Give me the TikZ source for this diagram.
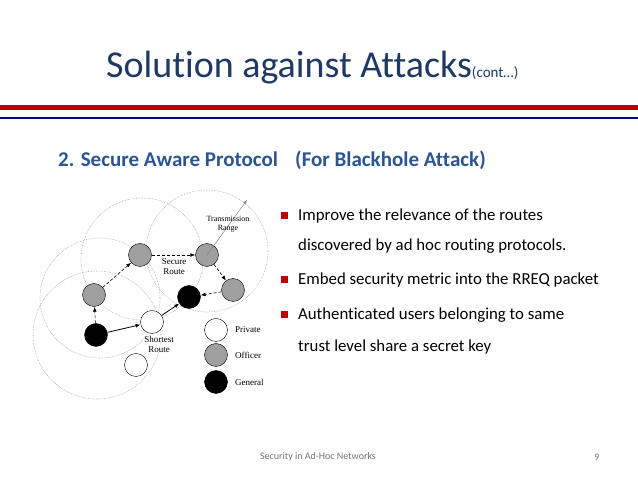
\documentclass[tikz,border=0pt]{standalone}
\usepackage{fontspec}
\setmainfont[RawFeature=-liga]{Carlito}
\newfontfamily\serifd{Liberation Serif}
\usetikzlibrary{arrows.meta}
\definecolor{ttl}{HTML}{1F3864}
\definecolor{sub}{HTML}{2B5590}
\definecolor{bar}{HTML}{C00000}
\definecolor{bl}{HTML}{0000A0}
\begin{document}
\begin{tikzpicture}[x=1pt,y=-1pt,
  rangec/.style={draw=gray!70,densely dotted,line width=0.6pt},
  officer/.style={circle,draw=black,fill=gray!75,minimum size=23pt,inner sep=0pt},
  general/.style={circle,draw=black,fill=black,minimum size=23pt,inner sep=0pt},
  private/.style={circle,draw=black,fill=white,minimum size=23pt,inner sep=0pt},
  darr/.style={densely dashed,-{Latex[length=5pt]},line width=0.6pt},
  sarr/.style={-{Latex[length=5pt]},line width=0.8pt},
  lbl/.style={font=\serifd\fontsize{8}{8.5}\selectfont,align=center,inner sep=0pt},
  bul/.style={anchor=west,font=\fontsize{16.8}{18}\selectfont,inner sep=0pt}]
\useasboundingbox (0,0) rectangle (638,478);
\node[anchor=base west,inner sep=0pt,text=ttl,font=\fontsize{38}{42}\selectfont] (title) at (106,78) {Solution against Attacks\fontsize{15}{17}\selectfont(cont…)};
\fill[bar] (0,105.5) rectangle (638,110.5);
\fill[bl] (0,117) rectangle (638,119);
\node[anchor=base west,inner sep=0pt,text=sub,font=\bfseries\fontsize{21}{24}\selectfont] (subt) at (58,167) {2. Secure Aware Protocol};
\node[anchor=base west,inner sep=0pt,text=sub,font=\bfseries\fontsize{21}{24}\selectfont] (subt2) at (295,167) {(For Blackhole Attack)};
% range circles
\draw[rangec] (207,251) circle (61);
\draw[rangec] (142,259) circle (61);
\draw[rangec] (100,298) circle (60);
\draw[rangec] (97,335) circle (64);
% nodes
\node[officer] (a) at (140,255) {};
\node[officer] (b) at (207,255) {};
\node[officer] (c) at (94,295) {};
\node[officer] (d) at (233,290) {};
\node[general] (e) at (189,297) {};
\node[general] (f) at (96,335) {};
\node[private] (g) at (152,322) {};
\node[private] (h) at (136,365) {};
\coordinate (tr) at (247,200);
\draw[-{Latex[length=4pt]},gray,line width=0.5pt] (b.center) -- (tr);
\draw[darr] (a) -- (b);
\draw[darr] (c) -- (a);
\draw[darr] (f) -- (c);
\draw[darr] (b) -- (d);
\draw[darr] (d) -- (e);
\draw[sarr] (f) -- (g);
\draw[sarr] (g) -- (e);
\node[lbl] (t1) at (228,224) {Transmission\\Range};
\node[lbl,font=\serifd\fontsize{9}{10}\selectfont] (t2) at (174,267) {Secure\\Route};
\node[lbl,font=\serifd\fontsize{9}{10}\selectfont] (t3) at (159,344) {Shortest\\Route};
% legend
\node[private] (lp) at (216,330) {};
\node[officer] (lo) at (216,355) {};
\node[general] (lg) at (216,382) {};
\node[lbl,anchor=west,font=\serifd\fontsize{9}{10}\selectfont] (lpt) at (235,330) {Private};
\node[lbl,anchor=west,font=\serifd\fontsize{9}{10}\selectfont] (lot) at (235,355) {Officer};
\node[lbl,anchor=west,font=\serifd\fontsize{9}{10}\selectfont] (lgt) at (235,382) {General};
% bullets
\foreach \y/\t [count=\i] in {216/Improve the relevance of the routes,280/Embed security metric into the RREQ packet,315/Authenticated users belonging to same}{
  \fill[bar] (281,\y-3.5) rectangle (288,\y+3.5);
  \node[bul] (b\i) at (298,\y) {\t};
}
\node[bul] (b4) at (298,246) {discovered by ad hoc routing protocols.};
\node[bul] (b5) at (298,347) {trust level share a secret key};
\node[font=\fontsize{10}{12}\selectfont,text=gray!90!black] (foot) at (318,457) {Security in Ad-Hoc Networks};
\node[font=\fontsize{10}{12}\selectfont,text=gray!90!black] (pg) at (597,457) {9};
\end{tikzpicture}
\end{document}
